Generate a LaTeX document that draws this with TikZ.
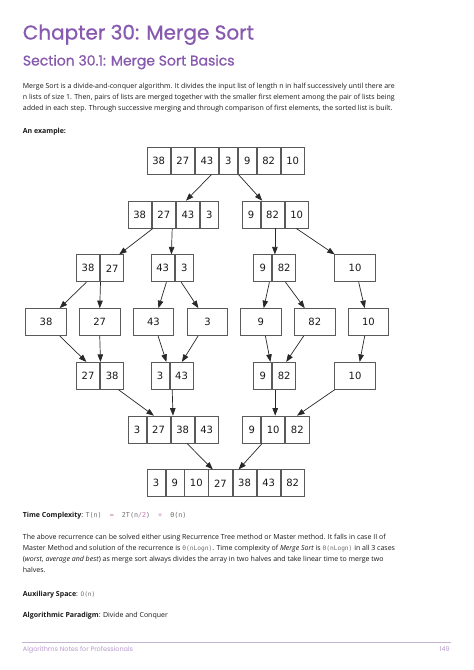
\documentclass[tikz,border=0pt]{standalone}
\usepackage{fontspec}
\setmainfont{Open Sans}
\newfontfamily\headfont{Poppins}[FakeBold=0.8]
\newfontfamily\footfont{Poppins}
\newfontfamily\diagfont{DejaVu Sans}
\newfontfamily\codefont{DejaVu Sans Mono}
\usetikzlibrary{arrows.meta}
\definecolor{headpurple}{RGB}{135,90,175}
\definecolor{footpurple}{RGB}{185,155,205}
\definecolor{footline}{RGB}{195,180,210}
\definecolor{bodytext}{RGB}{25,25,25}
\definecolor{codegray}{RGB}{110,110,110}
\definecolor{codepink}{RGB}{200,120,175}
\definecolor{boxgray}{RGB}{90,90,90}
\definecolor{arrowgray}{RGB}{40,40,40}
\newcommand\cd[1]{{\codefont\fontsize{6.2}{8}\selectfont\color{codegray}#1}}
\newcommand\cdbig[1]{{\codefont\fontsize{6.7}{8}\selectfont\color{codegray}#1}}
\newcommand\op[1]{\textcolor{codepink}{#1}}
\tikzset{
  cell/.style={draw=boxgray, line width=0.8pt, minimum height=27pt, inner sep=0pt,
    anchor=west, text=bodytext, font=\diagfont\fontsize{10}{12}\selectfont},
  wide/.style={cell, minimum width=23.3pt},
  narrow/.style={cell, minimum width=18pt},
  single/.style={cell, minimum width=40.7pt},
  arr/.style={draw=arrowgray, line width=0.7pt, -{Triangle[length=7.5pt,width=5.5pt]}},
  body/.style={anchor=base west, inner sep=0pt, text=bodytext, font=\fontsize{7}{9}\selectfont},
}
\begin{document}
\begin{tikzpicture}[x=1pt,y=-1pt]
\path[fill=white] (0,0) rectangle (474,670);
\useasboundingbox (0,0) rectangle (474,670);

% headings
\node[anchor=base west, inner sep=0pt, text=headpurple, font=\headfont\fontsize{20}{24}\selectfont] (chap) at (22.7,39.5) {Chapter 30: Merge Sort};
\node[anchor=base west, inner sep=0pt, text=headpurple, font=\headfont\fontsize{14}{17}\selectfont] (sect) at (22.7,65.5) {Section 30.1: Merge Sort Basics};

% intro paragraph
\node[body] (p1a) at (22.7,88.2) {Merge Sort is a divide-and-conquer algorithm. It divides the input list of length n in half successively until there are};
\node[body] (p1b) at (22.7,99.4) {n lists of size 1. Then, pairs of lists are merged together with the smaller first element among the pair of lists being};
\node[body] (p1c) at (22.7,110.6) {added in each step. Through successive merging and through comparison of first elements, the sorted list is built.};
\node[body] (ex) at (22.7,133) {\bfseries An example:};

% row 1
\node[wide] (r1a) at (146.7,160.8) {38};
\node[wide] (r1b) at (r1a.east) {27};
\node[wide] (r1c) at (r1b.east) {43};
\node[narrow] (r1d) at (r1c.east) {3};
\node[narrow] (r1e) at (r1d.east) {9};
\node[wide] (r1f) at (r1e.east) {82};
\node[wide] (r1g) at (r1f.east) {10};
% row 2
\node[wide] (r2a) at (127.7,214.55) {38};
\node[wide] (r2b) at (r2a.east) {27};
\node[wide] (r2c) at (r2b.east) {43};
\node[narrow] (r2d) at (r2c.east) {3};
\node[narrow] (r2e) at (241.7,214.55) {9};
\node[wide] (r2f) at (r2e.east) {82};
\node[wide] (r2g) at (r2f.east) {10};
% row 3
\node[wide] (r3a) at (76,268.3) {38};
\node[wide] (r3b) at (r3a.east) {27};
\node[wide] (r3c) at (150.7,268.3) {43};
\node[narrow] (r3d) at (r3c.east) {3};
\node[narrow] (r3e) at (253.3,268.3) {9};
\node[wide] (r3f) at (r3e.east) {82};
\node[single] (r3g) at (334.3,268.3) {10};
% row 4
\node[single] (r4a) at (25.3,322.05) {38};
\node[single] (r4b) at (79,322.05) {27};
\node[single] (r4c) at (132.7,322.05) {43};
\node[single] (r4d) at (186.7,322.05) {3};
\node[single] (r4e) at (240,322.05) {9};
\node[single] (r4f) at (294,322.05) {82};
\node[single] (r4g) at (347.7,322.05) {10};
% row 5
\node[wide] (r5a) at (76,375.8) {27};
\node[wide] (r5b) at (r5a.east) {38};
\node[narrow] (r5c) at (150.7,375.8) {3};
\node[wide] (r5d) at (r5c.east) {43};
\node[narrow] (r5e) at (253.3,375.8) {9};
\node[wide] (r5f) at (r5e.east) {82};
\node[single] (r5g) at (334.3,375.8) {10};
% row 6
\node[narrow] (r6a) at (127.7,429.55) {3};
\node[wide] (r6b) at (r6a.east) {27};
\node[wide] (r6c) at (r6b.east) {38};
\node[wide] (r6d) at (r6c.east) {43};
\node[narrow] (r6e) at (242.3,429.55) {9};
\node[wide] (r6f) at (r6e.east) {10};
\node[wide] (r6g) at (r6f.east) {82};
% row 7
\node[narrow] (r7a) at (146.7,483.3) {3};
\node[narrow] (r7b) at (r7a.east) {9};
\node[wide] (r7c) at (r7b.east) {10};
\node[wide] (r7d) at (r7c.east) {27};
\node[wide] (r7e) at (r7d.east) {38};
\node[wide] (r7f) at (r7e.east) {43};
\node[wide] (r7g) at (r7f.east) {82};

% connectors
\draw[arr] ([xshift=4.35pt]r1c.south) -- ([xshift=-1.95pt]r2c.north);
\draw[arr] ([xshift=-8.6pt]r1e.south) -- ([xshift=-10.35pt]r2f.north);
\draw[arr] ([xshift=-10.95pt]r2b.south) -- ([xshift=7.05pt]r3b.north);
\draw[arr] ([xshift=8.35pt]r2b.south) -- ([xshift=8.65pt]r3c.north);
\draw[arr] ([xshift=2.35pt]r2f.south) -- ([xshift=-9.25pt]r3f.north);
\draw[arr] ([xshift=-0.35pt]r2g.south) -- ([xshift=-20.35pt]r3g.north);
\draw[arr] ([xshift=-1.65pt]r3a.south) -- ([xshift=13.65pt]r4a.north);
\draw[arr] ([xshift=-11.65pt]r3b.south) -- (r4b.north);
\draw[arr] ([xshift=3.65pt]r3c.south) -- ([xshift=4.95pt]r4c.north);
\draw[arr] ([xshift=-3pt]r3d.south) -- ([xshift=-9.05pt]r4d.north);
\draw[arr] ([xshift=6.7pt]r3e.south) -- ([xshift=2.95pt]r4e.north);
\draw[arr] ([xshift=1.35pt]r3f.south) -- ([xshift=-10.05pt]r4f.north);
\draw[arr] ([xshift=3.65pt]r3g.south) -- ([xshift=-3.75pt]r4g.north);
\draw[arr] ([xshift=13.65pt]r4a.south) -- ([xshift=-1.65pt]r5a.north);
\draw[arr] (r4b.south) -- ([xshift=-11.65pt]r5b.north);
\draw[arr] ([xshift=4.65pt]r4c.south) -- ([xshift=6.3pt]r5c.north);
\draw[arr] ([xshift=-9.35pt]r4d.south) -- ([xshift=0.35pt]r5d.north);
\draw[arr] ([xshift=4.65pt]r4e.south) -- ([xshift=7.7pt]r5e.north);
\draw[arr] ([xshift=-11.05pt]r4f.south) -- ([xshift=2.05pt]r5f.north);
\draw[arr] ([xshift=-3.75pt]r4g.south) -- ([xshift=4.65pt]r5g.north);
\draw[arr] ([xshift=6.35pt]r5b.south) -- ([xshift=-4.65pt]r6b.north);
\draw[arr] ([xshift=-9.35pt]r5d.south) -- ([xshift=-9.65pt]r6c.north);
\draw[arr] ([xshift=-8.95pt]r5f.south) -- ([xshift=2.05pt]r6f.north);
\draw[arr] ([xshift=-20.35pt]r5g.south) -- ([xshift=-0.25pt]r6g.north);
\draw[arr] ([xshift=4.35pt]r6c.south) -- ([xshift=-7.65pt]r7d.north);
\draw[arr] ([xshift=-10.95pt]r6f.south) -- ([xshift=-5.95pt]r7e.north);

% complexity text
\node[body] (tc) at (22.7,517.7) {\bfseries Time Complexity\mdseries: \cdbig{T(n)\ \ \op{=}\ \ 2T(n\op{/2})\ \ \op{+}\ \ Θ(n)}};
\node[body] (p2a) at (22.7,539.3) {The above recurrence can be solved either using Recurrence Tree method or Master method. It falls in case II of};
\node[body] (p2b) at (22.7,550.5) {Master Method and solution of the recurrence is \cd{Θ(nLogn)}. Time complexity of \textit{Merge Sort} is \cd{Θ(nLogn)} in all 3 cases};
\node[body] (p2c) at (22.7,561.7) {(\textit{worst, average and best}) as merge sort always divides the array in two halves and take linear time to merge two};
\node[body] (p2d) at (22.7,572.9) {halves.};
\node[body] (aux) at (22.7,596) {\bfseries Auxiliary Space\mdseries: \cd{O(n)}};
\node[body] (par) at (22.7,617.5) {\bfseries Algorithmic Paradigm\mdseries: Divide and Conquer};

% footer
\coordinate (fl) at (21.7,642.3);
\coordinate (fr) at (450.7,642.3);
\draw[footline, line width=1pt] (fl) -- (fr);
\node[anchor=base west, inner sep=0pt, text=footpurple, font=\footfont\fontsize{6.5}{8}\selectfont] (ftl) at (22.7,651) {Algorithms Notes for Professionals};
\node[anchor=base east, inner sep=0pt, text=footpurple, font=\footfont\fontsize{6.5}{8}\selectfont] (ftr) at (450,651) {149};
\end{tikzpicture}
\end{document}
